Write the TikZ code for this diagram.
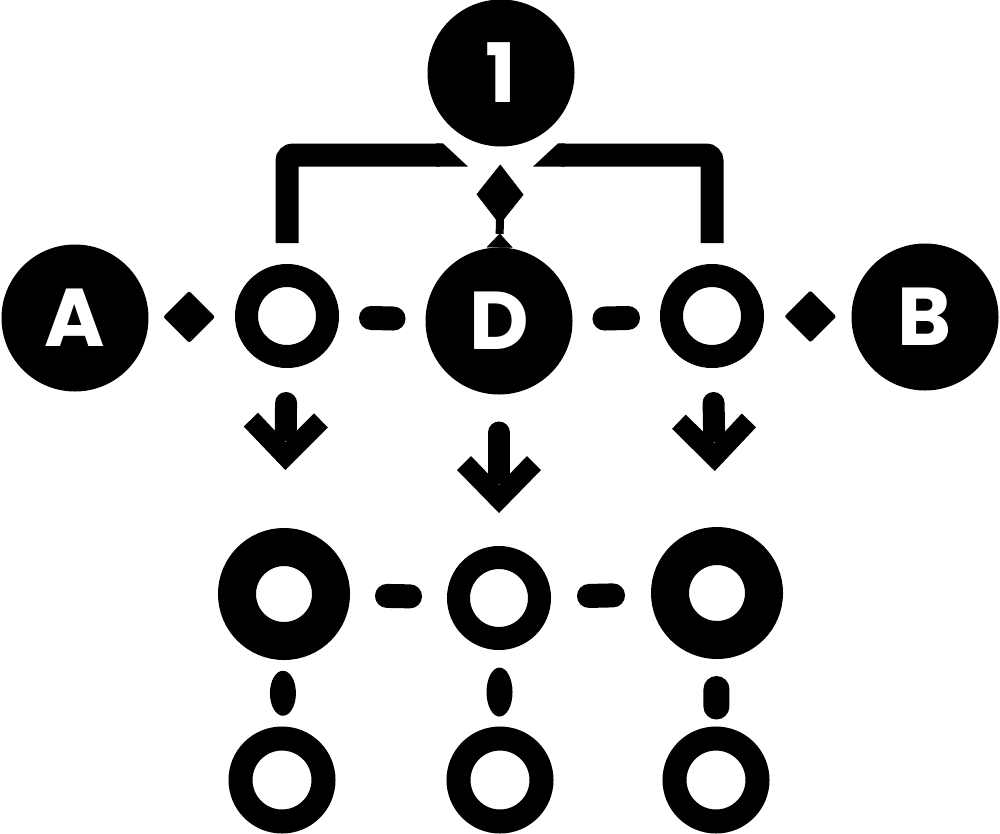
\documentclass[tikz,border=0pt]{standalone}
\usepackage{fontspec}
\newfontfamily\markfont{Poppins}
\usetikzlibrary{arrows.meta,shapes.geometric}
\tikzstyle{disc}=[circle, fill=black, text=white, inner sep=0pt, outer sep=0pt, minimum size=147pt, font=\markfont\bfseries\fontsize{82}{82}\selectfont]
\tikzstyle{ring}=[circle, draw, line width=23pt, minimum size=81pt, inner sep=0pt, outer sep=11.5pt]
\tikzstyle{bigring}=[circle, draw, line width=38pt, minimum size=94pt, inner sep=0pt, outer sep=19pt]
\tikzstyle{lowring}=[circle, draw, line width=24pt, minimum size=83pt, inner sep=0pt, outer sep=12pt]
\tikzstyle{gem}=[diamond, fill, inner sep=0pt, minimum size=52pt, rounded corners=2pt]
\tikzstyle{seed}=[ellipse, fill, inner sep=0pt, minimum width=26pt, minimum height=45pt]
\tikzstyle{drop}=[line width=22pt, line cap=round, -Chevron]
\tikzstyle{bracket}=[line width=23pt, rounded corners=6pt]
\tikzset{link/.style={line width=24pt, line cap=round, shorten <=#1, shorten >=#1}}
% big arrow head for the downward arrows
\pgfdeclarearrow{
  name = Chevron,
  setup code = {\pgfarrowssettipend{0pt}\pgfarrowssetlineend{-40pt}},
  drawing code = {
    \pgfsetcornersarced{\pgfpointorigin}
    \pgfpathmoveto{\pgfqpoint{0pt}{0pt}}
    \pgfpathlineto{\pgfqpoint{-43pt}{42pt}}
    \pgfpathlineto{\pgfqpoint{-57pt}{28pt}}
    \pgfpathlineto{\pgfqpoint{-28pt}{0pt}}
    \pgfpathlineto{\pgfqpoint{-57pt}{-28pt}}
    \pgfpathlineto{\pgfqpoint{-43pt}{-42pt}}
    \pgfpathclose
    \pgfusepathqfill
  },
  parameters = {}
}
% pointed ends of the top bracket
\pgfdeclarearrow{
  name = BladeL,
  setup code = {\pgfarrowssettipend{0pt}\pgfarrowssetlineend{-28pt}},
  drawing code = {
    \pgfsetcornersarced{\pgfpointorigin}
    \pgfpathmoveto{\pgfqpoint{0pt}{-11.6pt}}
    \pgfpathlineto{\pgfqpoint{-25pt}{11.6pt}}
    \pgfpathlineto{\pgfqpoint{-32pt}{11.6pt}}
    \pgfpathlineto{\pgfqpoint{-32pt}{-11.6pt}}
    \pgfpathclose
    \pgfusepathqfill
  },
  parameters = {}
}
\pgfdeclarearrow{
  name = BladeR,
  setup code = {\pgfarrowssettipend{0pt}\pgfarrowssetlineend{-28pt}},
  drawing code = {
    \pgfsetcornersarced{\pgfpointorigin}
    \pgfpathmoveto{\pgfqpoint{0pt}{11.6pt}}
    \pgfpathlineto{\pgfqpoint{-25pt}{-11.6pt}}
    \pgfpathlineto{\pgfqpoint{-32pt}{-11.6pt}}
    \pgfpathlineto{\pgfqpoint{-32pt}{11.6pt}}
    \pgfpathclose
    \pgfusepathqfill
  },
  parameters = {}
}

\begin{document}
\begin{tikzpicture}[x=1pt, y=-1pt]
    \useasboundingbox (0,0) rectangle (1000,833);
    % top and middle row
    \node[disc] (one) at (501,73) {1};
    \node[disc] (A) at (75,318) {A};
    \node[ring] (ringL) at (287,316) {};
    \node[disc] (D) at (499,321) {D};
    \node[ring] (ringR) at (712,316) {};
    \node[disc] (B) at (925,317) {B};
    % lower rows
    \node[bigring] (bigL) at (284,594) {};
    \node[ring] (midC) at (499,598) {};
    \node[bigring] (bigR) at (717,593) {};
    \node[lowring] (lowL) at (282,780) {};
    \node[lowring] (lowC) at (500,780) {};
    \node[lowring] (lowR) at (716,780) {};
    \coordinate (tipL) at (468,155);
    \coordinate (tipR) at (533,155);
    % bracket and stalk
    \draw[bracket, -BladeL, shorten <=21pt] (ringL) |- (tipL);
    \draw[bracket, -BladeR, shorten <=21pt] (ringR) |- (tipR);
    \draw[line width=8pt, shorten <=18pt, {Kite[length=60pt, width=47pt, inset=30pt, line width=0.5pt]}-{Triangle[length=14pt, width=26pt, reversed, line width=0.5pt]}] (one) -- (D);
    % links in the middle row
    \path (A) -- node[gem, pos=0.47] (gemA) {} (ringL);
    \path (ringR) -- node[gem, pos=0.53] (gemB) {} (B);
    \draw[link=32pt] (ringL) -- (D);
    \draw[link=32pt] (D) -- (ringR);
    % arrows down
    \draw[drop, shorten <=35pt, shorten >=58pt] (ringL) -- (bigL);
    \draw[drop, shorten <=38pt, shorten >=33pt] (D) -- (midC);
    \draw[drop, shorten <=35pt, shorten >=56pt] (ringR) -- (bigR);
    % links in the lower rows
    \draw[link=37pt] (bigL) -- (midC);
    \draw[link=38pt] (midC) -- (bigR);
    \path (bigL) -- node[seed] (seedL) {} (lowL);
    \path (midC) -- node[seed, minimum height=49pt, pos=0.55] (seedC) {} (lowC);
    \draw[line width=26pt, line cap=round, shorten <=30pt, shorten >=20pt] (bigR) -- (lowR);
\end{tikzpicture}
\end{document}
